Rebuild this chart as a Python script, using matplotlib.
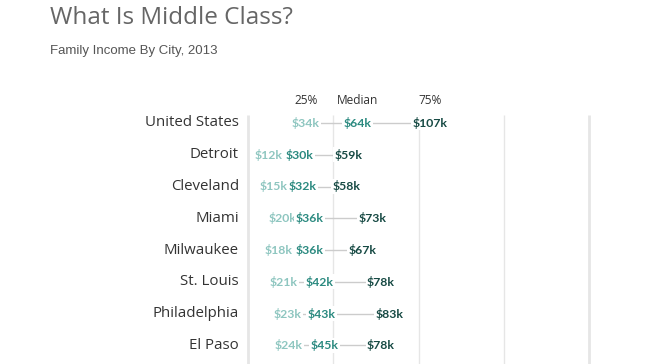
import matplotlib
matplotlib.use("Agg")
import matplotlib.pyplot as plt

cities = ["United States", "Detroit", "Cleveland", "Miami", "Milwaukee",
          "St. Louis", "Philadelphia", "El Paso"]
p25 = [34, 12, 15, 20, 18, 21, 23, 24]
median = [64, 30, 32, 36, 36, 42, 43, 45]
p75 = [107, 59, 58, 73, 67, 78, 83, 78]
grid_ticks = [0, 50, 100, 150, 200]
headers = ["25%", "Median", "75%"]

W, H = 647, 364
fig = plt.figure(figsize=(W / 100, H / 100), dpi=100)

ax_left, ax_right = 248, 589
ax_top, ax_bottom = 114, 364
ax = fig.add_axes([ax_left / W, 1 - ax_bottom / H, (ax_right - ax_left) / W,
                   (ax_bottom - ax_top) / H])
row_px = 31.75
row0_px = 123
ax.set_xlim(0, 200)
ax.set_ylim((ax_bottom - row0_px) / row_px, (ax_top - row0_px) / row_px)
ax.axis("off")

top_y = (115 - row0_px) / row_px
bot_y = (ax_bottom - row0_px) / row_px
for g in grid_ticks:
    lw = 2 if g in (grid_ticks[0], grid_ticks[-1]) else 1
    ax.plot([g, g], [top_y, bot_y], color="#e6e6e6", lw=lw, zorder=0,
            solid_capstyle="butt", clip_on=False)

c25, cmed, c75 = "#8ec6c0", "#2b8a80", "#174a44"
vfont = dict(family="Lato", weight="bold", fontsize=8.8)
box = dict(boxstyle="square,pad=0.12", facecolor="white", edgecolor="none")

for i, city in enumerate(cities):
    ax.plot([p25[i], p75[i]], [i, i], color="#cccccc", lw=1, zorder=1)
    ax.text(-5.3, i, city, ha="right", va="center", fontsize=10.8,
            family="Open Sans", color="#333333", clip_on=False)
    ax.text(p25[i], i, f"${p25[i]}k", ha="center", va="center", color=c25,
            bbox=box, zorder=2, **vfont)
    ax.text(median[i], i, f"${median[i]}k", ha="center", va="center",
            color=cmed, bbox=box, zorder=3, **vfont)
    ax.text(p75[i], i, f"${p75[i]}k", ha="center", va="center", color=c75,
            bbox=box, zorder=4, **vfont)

hy = (101 - row0_px) / row_px
for v, h in zip([p25[0], median[0], p75[0]], headers):
    ax.text(v, hy, h, ha="center", va="center", fontsize=8.6,
            family="Open Sans", color="#333333", clip_on=False)

fig.text(50 / W, 1 - 18.5 / H, "What Is Middle Class?", ha="left",
         va="center", fontsize=17.5, family="Open Sans", color="#666666")
fig.text(50 / W, 1 - 51 / H, "Family Income By City, 2013", ha="left",
         va="center", fontsize=9.5, family="Liberation Sans", color="#555555")

fig.savefig("out.png", dpi=100)
